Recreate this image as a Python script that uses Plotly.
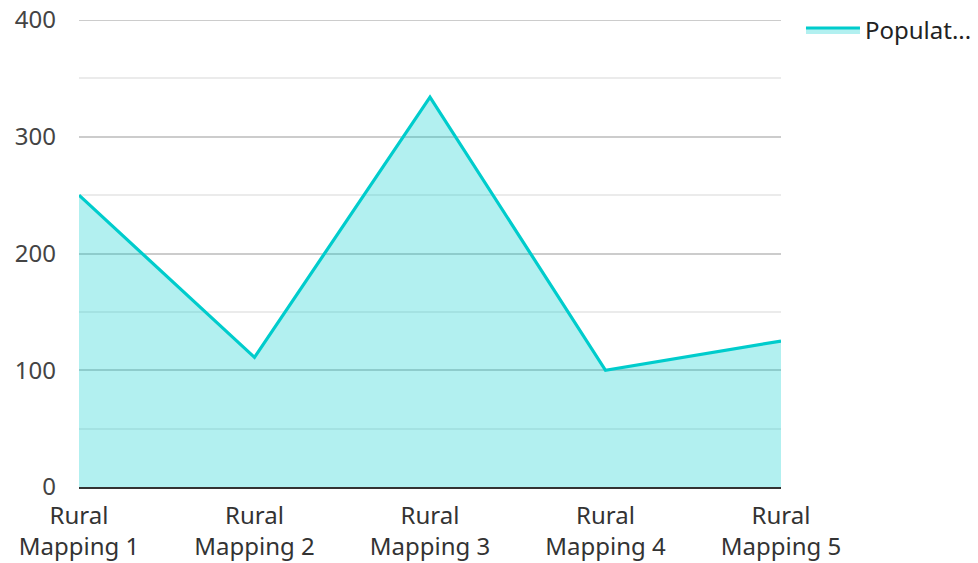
import plotly.graph_objects as go

categories = ["Rural Mapping 1", "Rural Mapping 2", "Rural Mapping 3", "Rural Mapping 4", "Rural Mapping 5"]
tick_labels = ["Rural<br>Mapping 1", "Rural<br>Mapping 2", "Rural<br>Mapping 3", "Rural<br>Mapping 4", "Rural<br>Mapping 5"]
population = [250, 111, 334, 100, 125]
series_name = "Populat..."
y_max = 400

fig = go.Figure()
fig.add_trace(go.Scatter(
    x=categories,
    y=population,
    name=series_name,
    mode="lines",
    fill="tozeroy",
    fillcolor="rgba(0,204,204,0.3)",
    line=dict(color="#00CCCC", width=3.2),
    showlegend=True,
))

# top gridline at the range edge
fig.add_shape(type="line", xref="paper", yref="y", x0=0, x1=1, y0=y_max, y1=y_max,
              line=dict(color="#CCCCCC", width=2), layer="below")

fig.update_layout(
    width=978,
    height=563,
    margin=dict(l=79, r=197, t=20, b=76, autoexpand=False),
    paper_bgcolor="white",
    plot_bgcolor="white",
    font=dict(family="Noto Sans, Open Sans, sans-serif", size=24, color="#333333"),
    legend=dict(
        xref="container", yref="container",
        x=0.819, y=0.986, xanchor="left", yanchor="top",
        font=dict(size=24, color="#222222"),
        itemwidth=54,
        bgcolor="rgba(0,0,0,0)",
    ),
    xaxis=dict(
        type="category",
        range=[0, 4],
        tickvals=categories,
        ticktext=tick_labels,
        showgrid=False,
        showline=True,
        linecolor="#333333",
        linewidth=2,
        ticks="",
        zeroline=False,
        automargin=False,
        ticklabelstandoff=6,
        tickfont=dict(size=24, color="#333333"),
    ),
    yaxis=dict(
        range=[0, y_max],
        dtick=100,
        showgrid=True,
        gridcolor="#CCCCCC",
        gridwidth=2,
        minor=dict(dtick=50, showgrid=True, gridcolor="#EBEBEB", gridwidth=2),
        zeroline=False,
        showline=False,
        ticks="",
        automargin=False,
        ticklabelstandoff=22,
        tickfont=dict(size=24, color="#444444"),
    ),
)

fig.write_html("out.html")
